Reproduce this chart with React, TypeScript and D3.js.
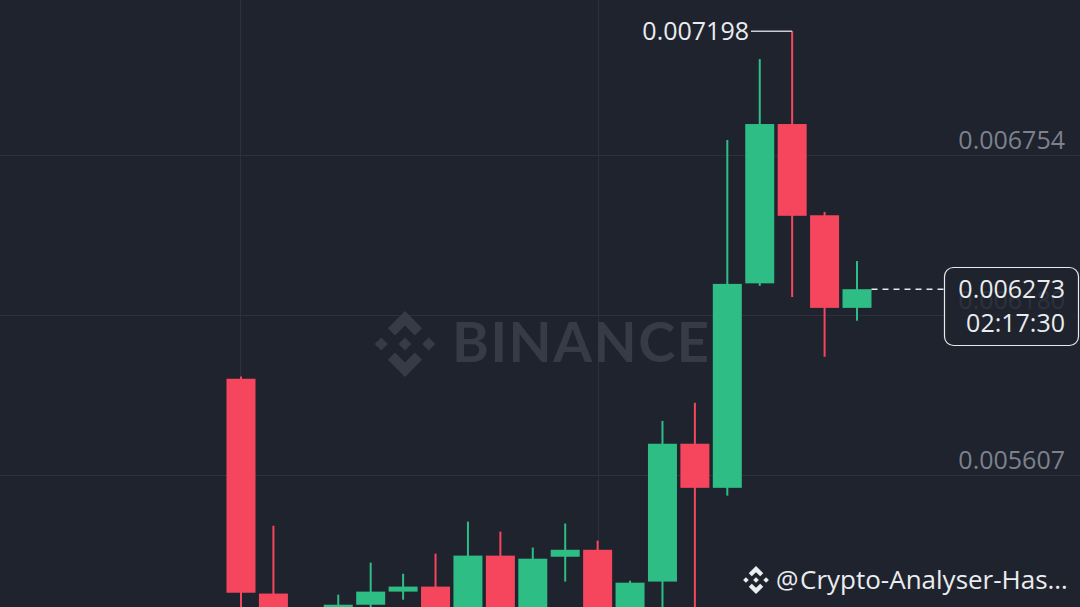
import React from "react";
import * as d3 from "d3";

const opens = [0.005952, 0.005182, 0.00505, 0.0051, 0.005142, 0.005189, 0.005207, 0.00509, 0.005318, 0.0051, 0.005314, 0.005339, 0.00511, 0.005225, 0.005719, 0.005561, 0.006294, 0.006865, 0.006538, 0.006206];
const highs = [0.00596, 0.005425, 0.00511, 0.005178, 0.005293, 0.005253, 0.005325, 0.00544, 0.005404, 0.005347, 0.005433, 0.005372, 0.005228, 0.005801, 0.005866, 0.006808, 0.007098, 0.007198, 0.00655, 0.006374];
const lows = [0.00505, 0.005, 0.005, 0.00505, 0.005125, 0.00516, 0.00505, 0.00506, 0.00507, 0.00508, 0.005225, 0.00508, 0.00509, 0.0051, 0.00505, 0.005533, 0.006285, 0.006245, 0.006031, 0.00616];
const closes = [0.005185, 0.00506, 0.00508, 0.005142, 0.005189, 0.005207, 0.00508, 0.005318, 0.0051, 0.005307, 0.005339, 0.00511, 0.005221, 0.005719, 0.005561, 0.006292, 0.006865, 0.006536, 0.006206, 0.006273];
const tickValues = [0.006754, 0.00618, 0.005607];
const tickLabels = ["0.006754", "0.006180", "0.005607"];
const maxLabel = "0.007198";
const lastPrice = 0.006273;
const lastPriceLabel = "0.006273";
const countdown = "02:17:30";

const W = 1080;
const H = 607;
const BG = "#1f232e";
const GREEN = "#2ebd85";
const RED = "#f6465d";
const GRID = "#2c313b";
const FONT = "'Open Sans', 'Noto Sans', sans-serif";

export default function App() {
  const x = d3.scaleLinear().domain([0, 19]).range([241, 857]);
  const y = d3.scaleLinear().domain([0.005607, 0.006754]).range([475, 155]);
  const bw = 29;
  const maxIdx = d3.maxIndex(highs);
  const yMax = y(highs[maxIdx]);
  const yLast = y(lastPrice);
  const logo = (cx: number, cy: number, s: number, fill: string) => {
    const d = s / 5;
    const sq = (px: number, py: number, r: number) =>
      `M${px},${py - r}L${px + r},${py}L${px},${py + r}L${px - r},${py}Z`;
    return (
      <g fill={fill}>
        <path d={sq(cx, cy, d)} />
        <path d={sq(cx - 3.6 * d, cy, d)} />
        <path d={sq(cx + 3.6 * d, cy, d)} />
        <path
          d={`M${cx},${cy - 5 * d}L${cx + 2.6 * d},${cy - 2.4 * d}L${cx + 1.5 * d},${cy - 1.3 * d}L${cx},${cy - 2.8 * d}L${cx - 1.5 * d},${cy - 1.3 * d}L${cx - 2.6 * d},${cy - 2.4 * d}Z`}
        />
        <path
          d={`M${cx},${cy + 5 * d}L${cx + 2.6 * d},${cy + 2.4 * d}L${cx + 1.5 * d},${cy + 1.3 * d}L${cx},${cy + 2.8 * d}L${cx - 1.5 * d},${cy + 1.3 * d}L${cx - 2.6 * d},${cy + 2.4 * d}Z`}
        />
      </g>
    );
  };
  return (
    <div style={{ position: "fixed", left: 0, top: 0, width: W, height: H, background: BG }}>
      <svg width={W} height={H} style={{ display: "block" }}>
        <rect width={W} height={H} fill={BG} />
        {tickValues.map((t, i) => (
          <line key={"h" + i} x1={0} x2={W} y1={Math.round(y(t)) + 0.5} y2={Math.round(y(t)) + 0.5} stroke={GRID} strokeWidth={1} />
        ))}
        {[240, 598].map((gx, i) => (
          <line key={"v" + i} x1={gx + 0.5} x2={gx + 0.5} y1={0} y2={H} stroke={GRID} strokeWidth={1} />
        ))}
        {logo(405, 344, 33, "#363b46")}
        <text x={452} y={362} fontFamily="Lato, 'Open Sans', sans-serif" fontWeight={700} fontSize={56} fill="#363b46" letterSpacing={1.5}>
          BINANCE
        </text>
        {tickValues.map((t, i) => (
          <text key={"l" + i} x={1065} y={y(t) - 6} textAnchor="end" fontFamily={FONT} fontSize={25} fill="#7c828d">
            {tickLabels[i]}
          </text>
        ))}
        {opens.map((o, i) => {
          const c = closes[i];
          const col = c >= o ? GREEN : RED;
          const cx = x(i);
          const top = y(Math.max(o, c));
          const bot = y(Math.min(o, c));
          return (
            <g key={"c" + i}>
              <rect x={cx - 1} y={y(highs[i])} width={2} height={y(lows[i]) - y(highs[i])} fill={col} />
              <rect x={cx - bw / 2} y={top} width={bw} height={Math.max(1, bot - top)} fill={col} />
            </g>
          );
        })}
        <path d={`M${751},${yMax}H${x(maxIdx)}`} stroke="#c9ccd1" strokeWidth={1.5} fill="none" />
        <text x={749} y={yMax + 9} textAnchor="end" fontFamily={FONT} fontSize={25} fill="#eaecef">
          {maxLabel}
        </text>
        <line x1={x(19) + bw / 2} x2={944} y1={yLast} y2={yLast} stroke="#e6e8ea" strokeWidth={1.5} strokeDasharray="6,5" />
        <rect x={944.5} y={267.5} width={134} height={78} rx={9} fill={BG} fillOpacity={0.85} stroke="#e6e8ea" strokeWidth={1.2} />
        <text x={1065} y={298} textAnchor="end" fontFamily={FONT} fontSize={25} fill="#eaecef">
          {lastPriceLabel}
        </text>
        <text x={1065} y={332} textAnchor="end" fontFamily={FONT} fontSize={25} fill="#eaecef">
          {countdown}
        </text>
        {logo(756, 580, 14, "#eaecef")}
        <text x={776} y={589} fontFamily={FONT} fontSize={25} fill="#eaecef">
          @
        </text>
        <text x={800} y={589} fontFamily={FONT} fontSize={26} fill="#eaecef">
          Crypto-Analyser-Has…
        </text>
      </svg>
    </div>
  );
}
